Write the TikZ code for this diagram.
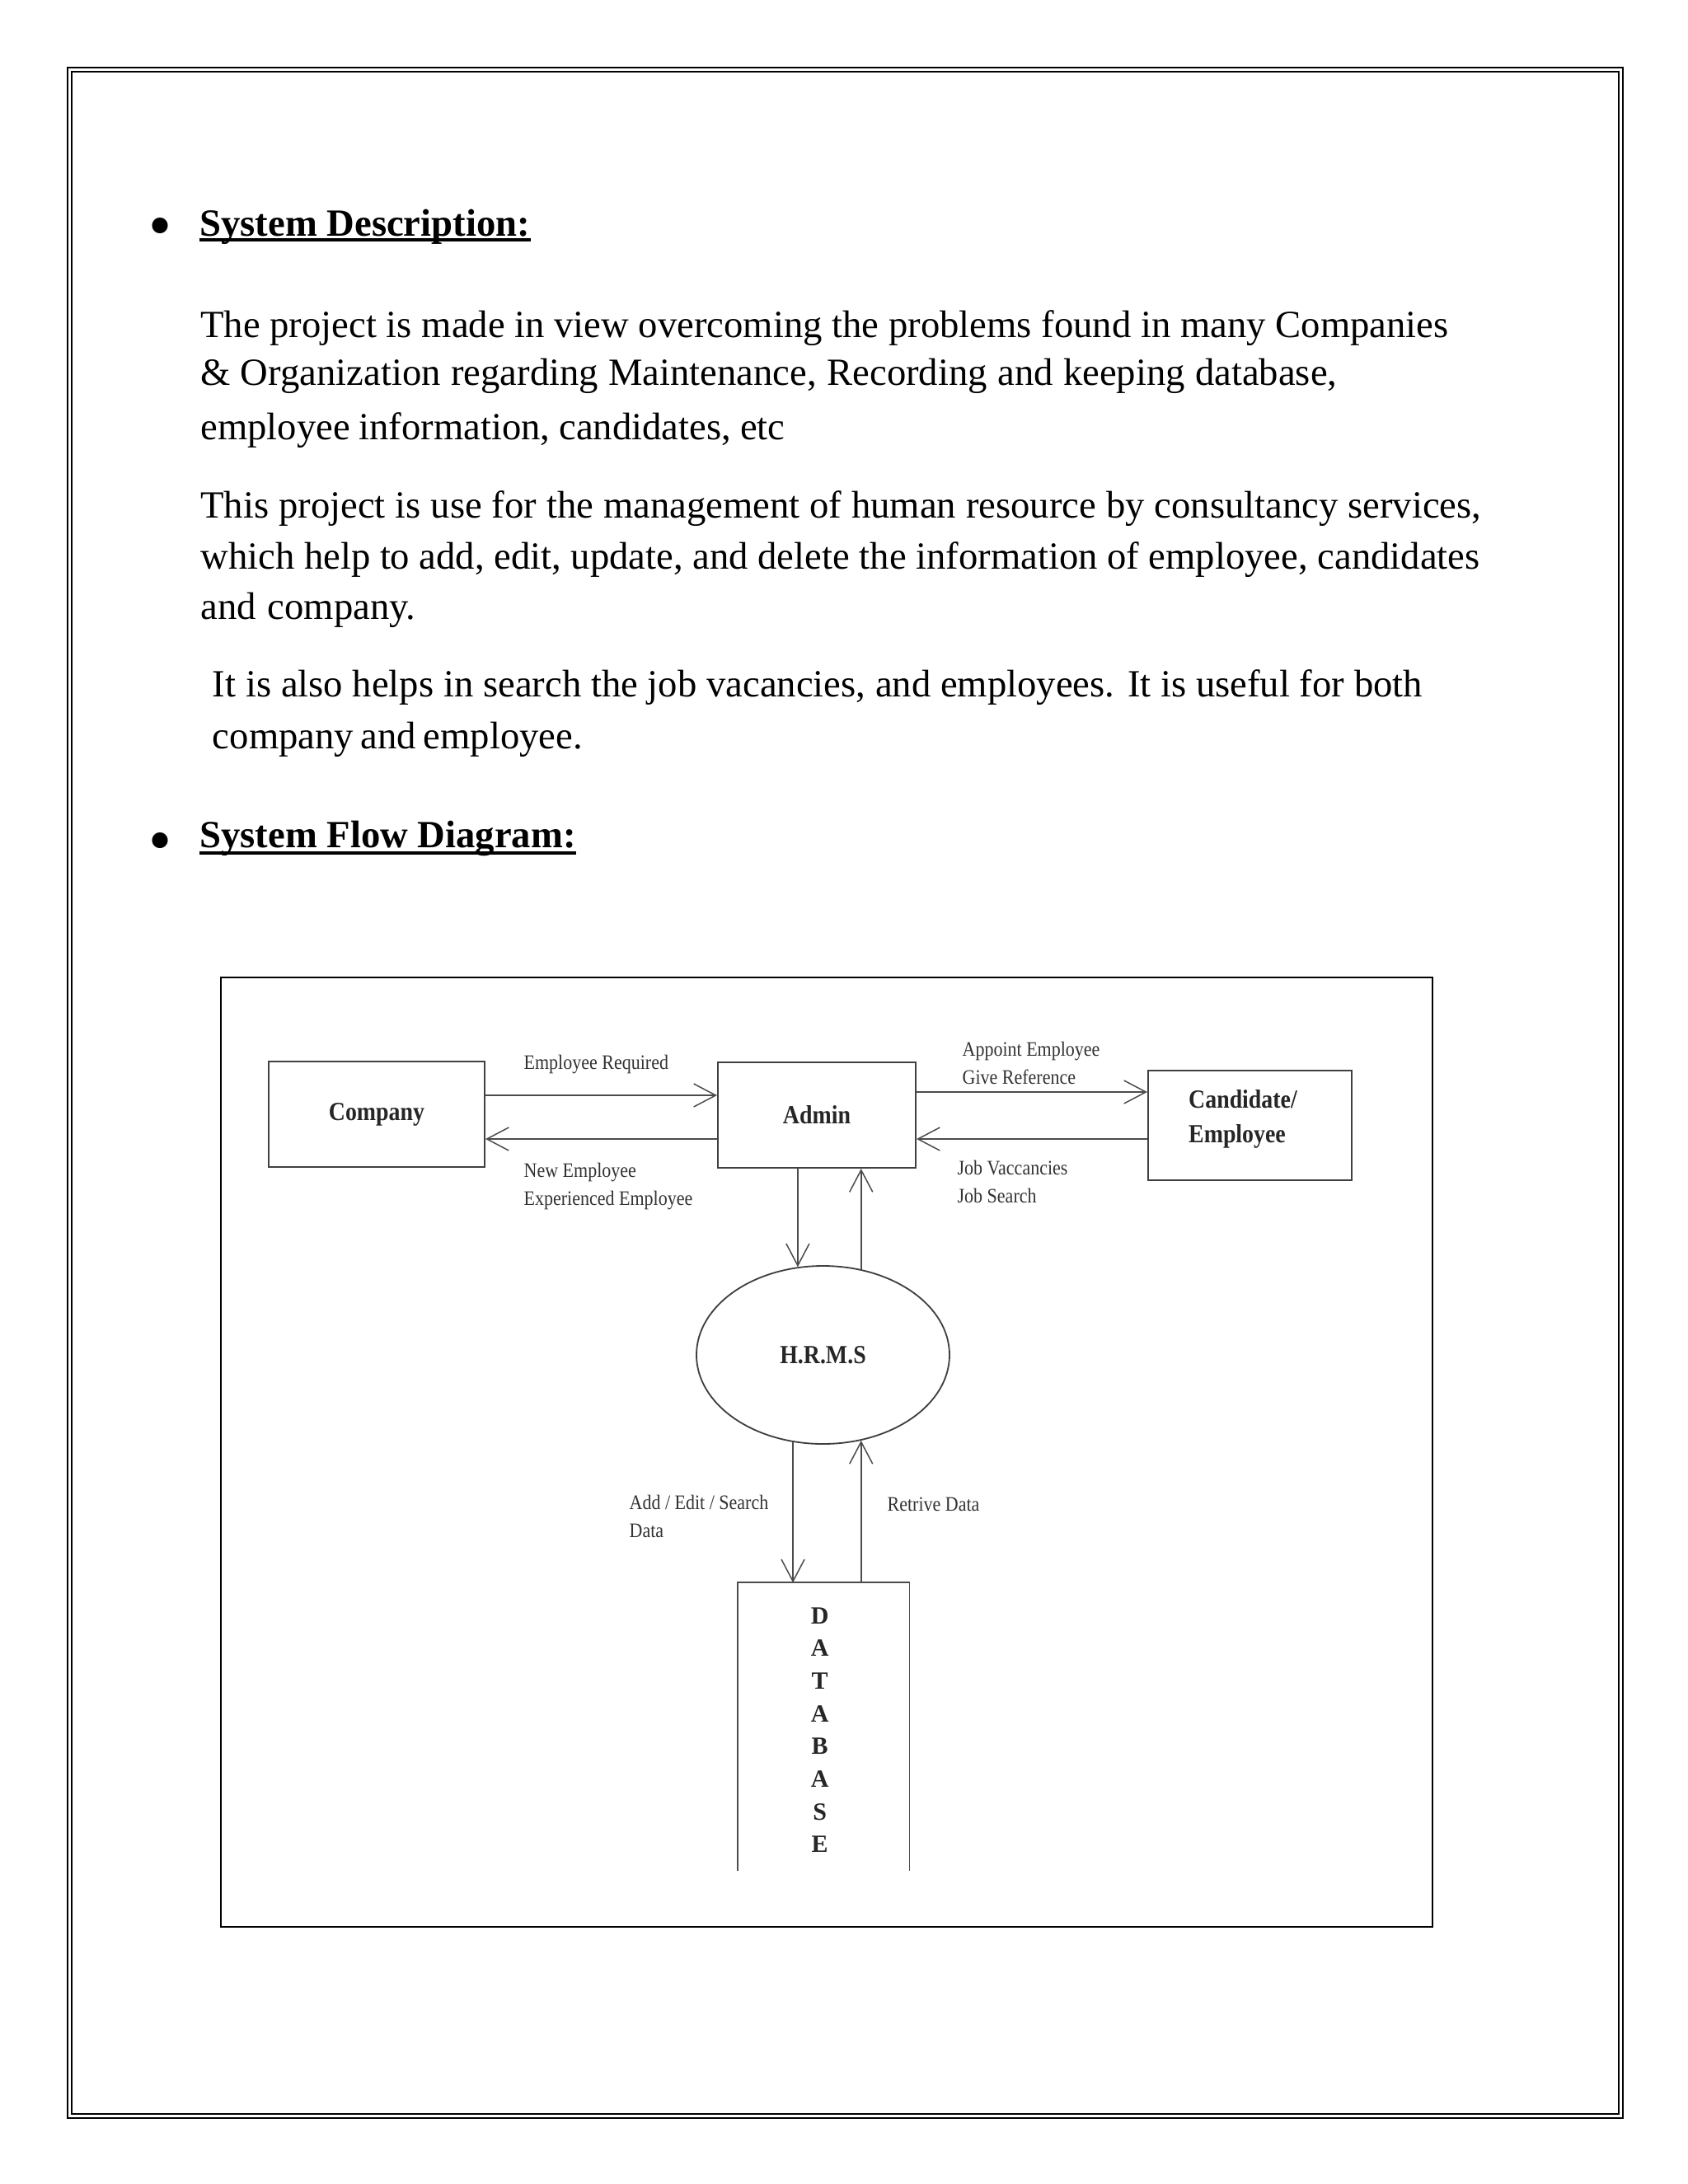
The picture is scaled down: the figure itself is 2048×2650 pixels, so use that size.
\documentclass[tikz,border=0pt]{standalone}
\usepackage{fontspec}
\setmainfont{Liberation Serif}
\usetikzlibrary{arrows.meta,shapes.geometric,calc}
\newlength\pxu
\setlength\pxu{0.3pt}
\newcommand{\bline}[2]{\makebox[#1\pxu][s]{#2}}
\newcommand{\sq}[1]{\scalebox{0.88}[1]{#1}}
\begin{document}
\begin{tikzpicture}[x=0.3pt,y=-0.3pt,
  body/.style={anchor=base west,inner sep=0pt,font=\fontsize{14}{16}\selectfont},
  titletext/.style={anchor=base west,inner sep=0pt,font=\fontsize{14}{16}\selectfont\bfseries},
  bul/.style={anchor=base,inner sep=0pt,font=\fontsize{24}{26}\selectfont},
  uline/.style={line width=1.1pt},
  boxnode/.style={draw=black!75,line width=0.6pt,rectangle,inner sep=0pt,text=black!85,font=\fontsize{9.5}{12.6}\selectfont\bfseries},
  lbl/.style={anchor=base west,inner sep=0pt,text=black!80,font=\fontsize{7.5}{10.2}\selectfont,align=left},
  blbl/.style={inner sep=0pt,text=black!85,font=\fontsize{9.5}{12.6}\selectfont\bfseries,align=left},
  flow/.style={draw=black!70,line width=0.45pt,-{Straight Barb[length=8pt,width=8.4pt]}},
  dbline/.style={draw=black!70,line width=0.55pt},
]
\useasboundingbox (0,0) rectangle (2048,2650);
\fill[white] (0,0) rectangle (2048,2650);

% page border (double)
\draw[line width=0.8pt] (82,82) rectangle (1969,2570);
\draw[line width=0.6pt] (86.5,86.5) rectangle (1964,2565);

% heading 1
\node[bul] (b1) at (195,300) {•};
\node[titletext] (t1) at (241.7,286.7) {System Description:};
\draw[uline] ([yshift=-1.3pt]t1.base west) -- ([yshift=-1.3pt]t1.base east);

% paragraphs
\node[body] (p1a) at (242.7,409.3) {\bline{1514}{The project is made in view overcoming the problems found in many Companies}};
\node[body] (p1b) at (242.7,467) {\bline{1379}{\& Organization regarding Maintenance, Recording and keeping database,}};
\node[body] (p1c) at (242.7,533.5) {\bline{709}{employee information, candidates, etc}};
\node[body] (p2a) at (242.7,628) {\bline{1554}{This project is use for the management of human resource by consultancy services,}};
\node[body] (p2b) at (242.7,690.5) {\bline{1552}{which help to add, edit, update, and delete the information of employee, candidates}};
\node[body] (p2c) at (242.7,751.5) {\bline{261}{and company.}};
\node[body] (p3a) at (257.3,845.5) {\bline{1468}{It is also helps in search the job vacancies, and employees. It is useful for both}};
\node[body] (p3b) at (257.3,908.3) {\bline{449}{company and employee.}};

% heading 2
\node[bul] (b2) at (195,1046) {•};
\node[titletext] (t2) at (241.7,1028.3) {System Flow Diagram:};
\draw[uline] ([yshift=-2pt]t2.base west) -- ([yshift=-2pt]t2.base east);

% diagram frame
\draw[line width=0.5pt] (268.3,1186) rectangle (1737.7,2337.7);

% nodes
\node[boxnode,minimum width=78.6pt,minimum height=38.4pt] (cmp) at (457,1352) {\sq{Company}};
\node[boxnode,minimum width=72pt,minimum height=38.4pt] (adm) at (991,1353) {\sq{Admin}};
\node[boxnode,minimum width=74.1pt,minimum height=39.9pt] (cand) at (1516.5,1365.5) {};
\node[blbl] (candt) at (1508,1358) {\sq{Candidate/}\\\sq{Employee}};
\node[draw=black!75,line width=0.55pt,ellipse,inner sep=0pt,minimum width=92.1pt,minimum height=64.8pt,
      text=black!85,font=\fontsize{9.5}{12}\selectfont\bfseries] (hrms) at (998.5,1644) {\sq{H.R.M.S}};
\node[inner sep=0pt,minimum width=62.2pt,minimum height=104.4pt] (db) at (999.1,2095) {};
\draw[dbline] (db.south west) -- (db.north west) -- (db.north east) -- (db.south east);
\node[inner sep=0pt,align=center,text=black!85,font=\fontsize{9}{11.9}\selectfont\bfseries] (dbt) at (994.6,2099)
  {D\\A\\T\\A\\B\\A\\S\\E};

% connectors
\draw[flow] ([yshift=6.9pt]cmp.east) -- ([yshift=6.9pt]cmp.east -| adm.west);
\draw[flow] ([yshift=-8.7pt]adm.west) -- ([yshift=-8.7pt]adm.west -| cmp.east);
\draw[flow] ([yshift=8.4pt]adm.east) -- ([yshift=8.4pt]adm.east -| cand.west);
\draw[flow] ([yshift=-8.7pt]adm.east -| cand.west) -- ([yshift=-8.7pt]adm.east);
\draw[flow] (hrms.106 |- adm.south) -- (hrms.106);
\draw[flow] (hrms.66) -- (hrms.66 |- adm.south);
\draw[flow] (hrms.-109) -- (hrms.-109 |- db.north);
\draw[flow] (hrms.-66 |- db.north) -- (hrms.-66);

% connector labels (base = baseline of the last line)
\node[lbl] (ler) at (635,1297) {\sq{Employee Required}};
\node[lbl] (lae) at (1167,1315.7) {\sq{Appoint Employee}\\\sq{Give Reference}};
\node[lbl] (lne) at (635,1462) {\sq{New Employee}\\\sq{Experienced Employee}};
\node[lbl] (ljv) at (1161,1459) {\sq{Job Vaccancies}\\\sq{Job Search}};
\node[lbl] (ladd) at (763,1865.7) {\sq{Add / Edit / Search}\\\sq{Data}};
\node[lbl] (lrd) at (1076,1833) {\sq{Retrive Data}};
\end{tikzpicture}
\end{document}
